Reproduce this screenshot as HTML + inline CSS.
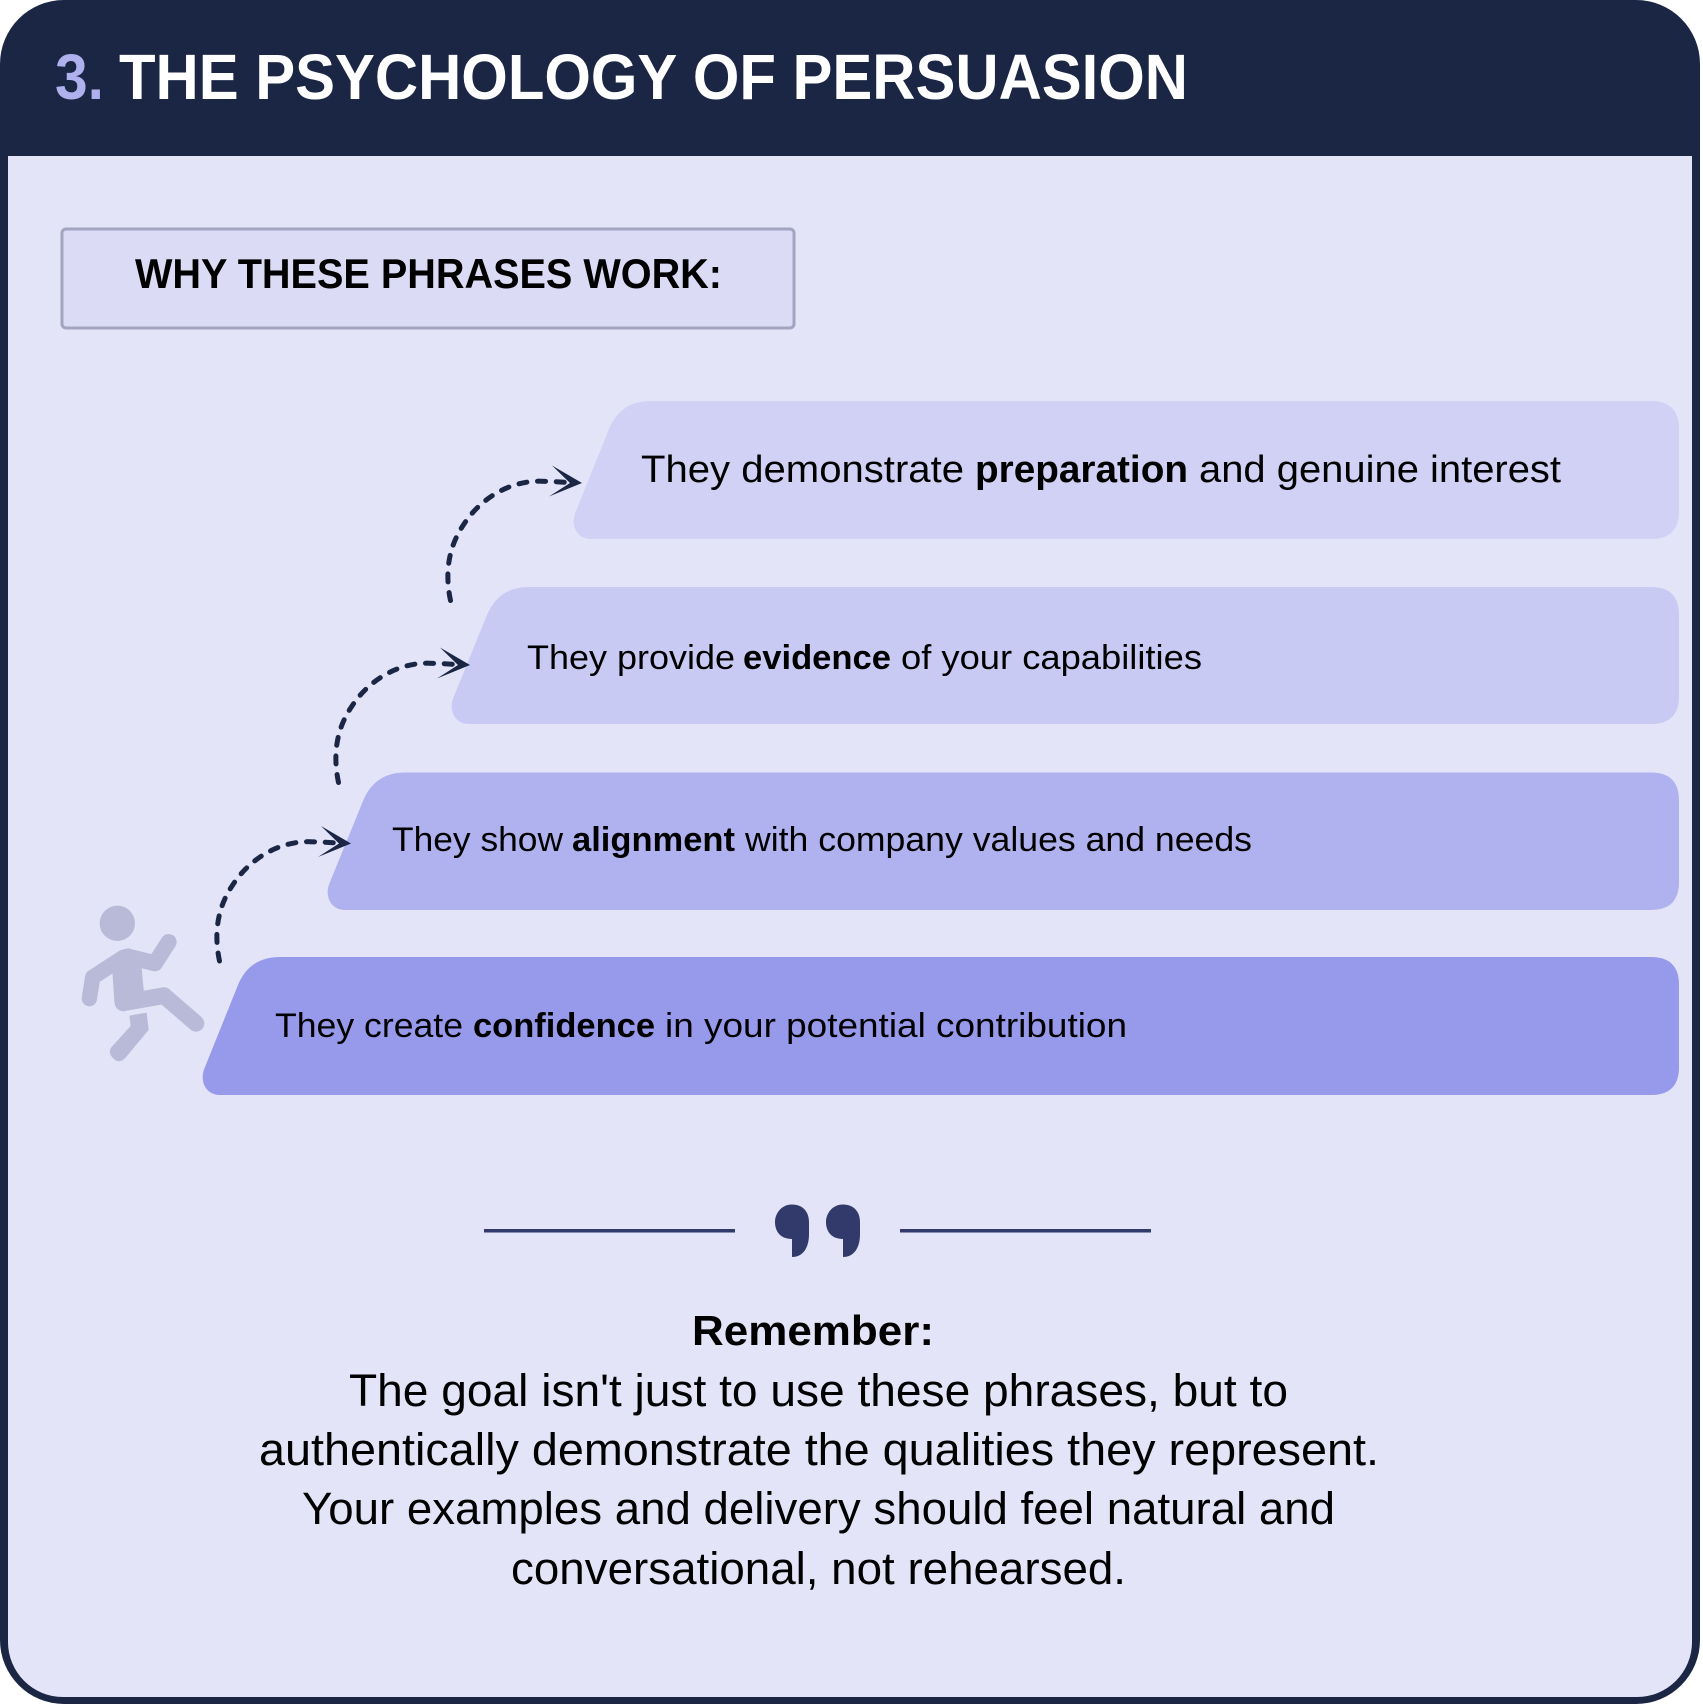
<!DOCTYPE html>
<html><head><meta charset="utf-8"><style>
html,body{margin:0;padding:0;background:#fff;width:1703px;height:1706px;overflow:hidden}
svg{display:block}
text{font-family:"Liberation Sans",sans-serif;fill:#000}
.b{font-weight:700}
</style></head><body>
<svg width="1703" height="1706" viewBox="0 0 1703 1706" xmlns="http://www.w3.org/2000/svg">
<rect x="0" y="0" width="1700" height="1704" rx="64" ry="64" fill="#1A2644"/>
<path d="M8,156 H1692 V1642 A55,55 0 0 1 1637,1697 H63 A55,55 0 0 1 8,1642 Z" fill="#E3E4F8"/>
<text x="55" y="99" font-size="64" class="b" style="fill:#AFB1EE" textLength="49" lengthAdjust="spacingAndGlyphs">3.</text>
<text x="119" y="99" font-size="64" class="b" style="fill:#fff" textLength="1069" lengthAdjust="spacingAndGlyphs">THE PSYCHOLOGY OF PERSUASION</text>
<rect x="62" y="229" width="732" height="99" rx="4" fill="#DBDBF6" stroke="#A3A5C0" stroke-width="3"/>
<text x="135" y="288" font-size="42" class="b" textLength="587" lengthAdjust="spacingAndGlyphs">WHY THESE PHRASES WORK:</text>

<path d="M651,401 H1651 Q1679,401 1679,429 V511 Q1679,539 1651,539 H591 C576,539 570,524 576,511 L609,429 C616,412 629,401 651,401 Z" fill="#D1D1F5"/>
<path d="M529,587 H1651 Q1679,587 1679,615 V696 Q1679,724 1651,724 H469 C454,724 448,709 454,696 L487,615 C494,598 507,587 529,587 Z" fill="#C9CAF4"/>
<path d="M405,772.5 H1651 Q1679,772.5 1679,800.5 V882 Q1679,910 1651,910 H345 C330,910 324,895 330,882 L363,801 C370,784 383,772.5 405,772.5 Z" fill="#B0B1EF"/>
<path d="M280,957 H1651 Q1679,957 1679,985 V1067 Q1679,1095 1651,1095 H220 C205,1095 199,1080 205,1067 L238,985 C245,968 258,957 280,957 Z" fill="#9799EA"/>

<text x="641" y="482" font-size="38" textLength="323" lengthAdjust="spacingAndGlyphs">They demonstrate</text>
<text x="975" y="482" font-size="38" class="b" textLength="213" lengthAdjust="spacingAndGlyphs">preparation</text>
<text x="1199" y="482" font-size="38" textLength="362" lengthAdjust="spacingAndGlyphs">and genuine interest</text>

<text x="527" y="669" font-size="34" textLength="208" lengthAdjust="spacingAndGlyphs">They provide</text>
<text x="743" y="669" font-size="34" class="b" textLength="148" lengthAdjust="spacingAndGlyphs">evidence</text>
<text x="901" y="669" font-size="34" textLength="301" lengthAdjust="spacingAndGlyphs">of your capabilities</text>

<text x="392" y="851" font-size="34" textLength="171" lengthAdjust="spacingAndGlyphs">They show</text>
<text x="572" y="851" font-size="34" class="b" textLength="163" lengthAdjust="spacingAndGlyphs">alignment</text>
<text x="745" y="851" font-size="34" textLength="507" lengthAdjust="spacingAndGlyphs">with company values and needs</text>

<text x="275" y="1037" font-size="34" textLength="188" lengthAdjust="spacingAndGlyphs">They create</text>
<text x="473" y="1037" font-size="34" class="b" textLength="182" lengthAdjust="spacingAndGlyphs">confidence</text>
<text x="665" y="1037" font-size="34" textLength="462" lengthAdjust="spacingAndGlyphs">in your potential contribution</text>

<g>
<g>
<path d="M219.5,961 C213,930 219,905 232.7,885 C250,858 280,841 310,841.7 C322,842 332,842.5 342,843.5" fill="none" stroke="#1A2644" stroke-width="5" stroke-linecap="round" stroke-dasharray="8 10.7"/>
<path d="M321,826 L351,843.5 L318,857 L339,843.5 Z" fill="#1A2644"/>
</g>
<g transform="translate(119,-178.5)">
<path d="M219.5,961 C213,930 219,905 232.7,885 C250,858 280,841 310,841.7 C322,842 332,842.5 342,843.5" fill="none" stroke="#1A2644" stroke-width="5" stroke-linecap="round" stroke-dasharray="8 10.7"/>
<path d="M321,826 L351,843.5 L318,857 L339,843.5 Z" fill="#1A2644"/>
</g>
<g transform="translate(231,-360.5)">
<path d="M219.5,961 C213,930 219,905 232.7,885 C250,858 280,841 310,841.7 C322,842 332,842.5 342,843.5" fill="none" stroke="#1A2644" stroke-width="5" stroke-linecap="round" stroke-dasharray="8 10.7"/>
<path d="M321,826 L351,843.5 L318,857 L339,843.5 Z" fill="#1A2644"/>
</g>
</g>

<g transform="translate(50,780) scale(0.3333)" fill="#B9BAD7">
<circle cx="202" cy="430" r="53"/>
<path d="M220,532 L128,592 L118,656" fill="none" stroke="#B9BAD7" stroke-width="46" stroke-linecap="round" stroke-linejoin="round"/>
<path d="M235,530 L315,550 L356,486" fill="none" stroke="#B9BAD7" stroke-width="48" stroke-linecap="round" stroke-linejoin="round"/>
<path d="M185,540 Q205,505 240,505 L272,530 L282,640 L225,694 Q196,695 193,665 Z"/>
<path d="M222,668 L342,647 L438,730" fill="none" stroke="#B9BAD7" stroke-width="50" stroke-linecap="round" stroke-linejoin="round"/>
<path d="M238,707 L290,698 L296,750 L225,835 Q205,855 185,830 Q172,812 190,795 L242,738 Z"/>
</g>

<rect x="484" y="1229" width="251" height="3.5" fill="#323A6B"/>
<rect x="900" y="1229" width="251" height="3.5" fill="#323A6B"/>
<path d="M792,1204.5 C781,1204.5 775,1214 775,1222 C775,1232 781,1239 792,1239 L792,1257 C803,1257 809,1248 809,1234 L809,1222 C809,1212 803,1204.5 792,1204.5 Z" fill="#323A6B"/>
<path d="M843,1204.5 C832,1204.5 826,1214 826,1222 C826,1232 832,1239 843,1239 L843,1257 C854,1257 860,1248 860,1234 L860,1222 C860,1212 854,1204.5 843,1204.5 Z" fill="#323A6B"/>

<text x="692" y="1345" font-size="42" class="b" textLength="242" lengthAdjust="spacingAndGlyphs">Remember:</text>
<text x="349" y="1406" font-size="45" textLength="939" lengthAdjust="spacingAndGlyphs">The goal isn't just to use these phrases, but to</text>
<text x="259" y="1465" font-size="45" textLength="1120" lengthAdjust="spacingAndGlyphs">authentically demonstrate the qualities they represent.</text>
<text x="302" y="1524" font-size="45" textLength="1033" lengthAdjust="spacingAndGlyphs">Your examples and delivery should feel natural and</text>
<text x="511" y="1584" font-size="45" textLength="615" lengthAdjust="spacingAndGlyphs">conversational, not rehearsed.</text>
</svg>
</body></html>
